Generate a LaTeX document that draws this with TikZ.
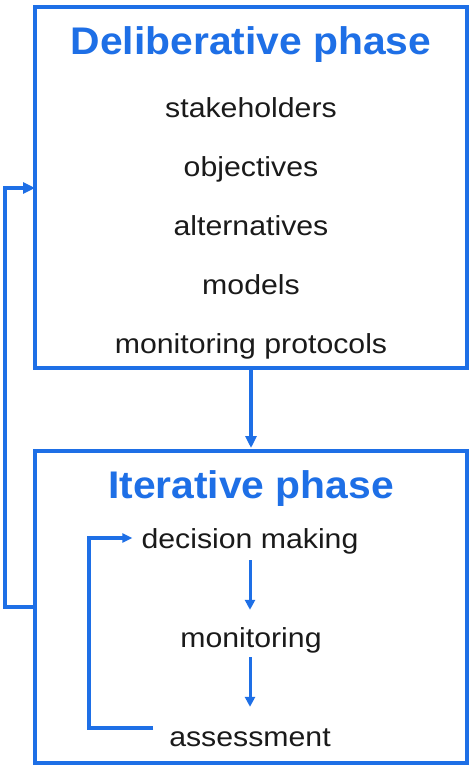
\documentclass[tikz,border=0pt]{standalone}
\usepackage{fontspec}
\setmainfont{Liberation Sans}
\newfontfamily\bodyfont[FakeStretch=1.1]{Liberation Sans}
\newfontfamily\titlefont[FakeStretch=1.06]{Liberation Sans}
\usetikzlibrary{arrows.meta}
\definecolor{lineblue}{HTML}{1E6FE6}
\definecolor{txt}{HTML}{1A1A1A}
\begin{document}
\begin{tikzpicture}[x=1pt,y=-1pt,
  box/.style={draw=lineblue, line width=4pt, minimum width=432pt, inner sep=0pt},
  ttl/.style={anchor=base, text=lineblue, inner sep=0pt, font=\titlefont\bfseries\fontsize{38.5}{46}\selectfont},
  item/.style={anchor=base, text=txt, inner sep=3pt, text height=20pt, text depth=6pt, font=\bodyfont\fontsize{27.5}{33}\selectfont},
  bigarr/.style={draw=lineblue, line width=3.8pt, -{Triangle[length=12pt,width=11pt]}},
  midarr/.style={draw=lineblue, line width=3.2pt, -{Triangle[length=10pt,width=9pt]}},
  smallarr/.style={draw=lineblue, line width=3pt, -{Triangle[length=10pt,width=10pt]}}
]
\useasboundingbox (0,0) rectangle (474,770);
\fill[white] (0,0) rectangle (474,770);

% boxes
\node[box, minimum height=361pt] (delib) at (251,187.5) {};
\node[box, minimum height=312pt] (iter) at (251,607) {};

% top box texts
\node[ttl] (dt) at (251,55) {Deliberative phase};
\node[item] (s1) at (251,117.5) {stakeholders};
\node[item] (s2) at (251,176.5) {objectives};
\node[item] (s3) at (251,235.5) {alternatives};
\node[item] (s4) at (251,294.5) {models};
\node[item] (s5) at (251,353.5) {monitoring protocols};

% bottom box texts
\node[ttl] (it) at (251,498) {Iterative phase};
\node[item] (dec) at (250,548) {decision making};
\node[item] (mon) at (251,647) {monitoring};
\node[item] (ass) at (250,746) {assessment};

% connectors
\draw[bigarr, shorten >=1pt] (delib.south) -- (iter.north);
\coordinate (lp) at (5,607);
\coordinate (lt) at (35,188);
\draw[bigarr] (iter.west) -- (lp) |- (lt);

\draw[smallarr, shorten <=3pt, shorten >=14pt] (dec.south) -- (dec.south |- mon.north);
\draw[smallarr, shorten <=1pt, shorten >=16pt] (dec.south |- mon.south) -- (dec.south |- ass.north);

\coordinate (lb) at (89,728);
\draw[midarr, shorten >=6pt] ([xshift=-13pt,yshift=11pt]ass.west) -- (lb) |- ([yshift=3pt]dec.west);
\end{tikzpicture}
\end{document}
